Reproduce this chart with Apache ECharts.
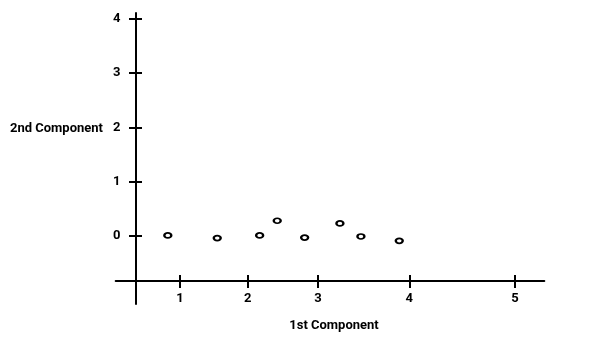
<!DOCTYPE html>
<html><head><meta charset="utf-8">
<script src="https://cdn.jsdelivr.net/npm/echarts@6/dist/echarts.min.js"></script>
<style>html,body{margin:0;padding:0;background:#fff}#c{width:606px;height:348px}</style>
</head><body><div id="c"></div>
<script>
// ---- data ----
const xTickLabels = [1, 2, 3, 4, 5];
const yTickLabels = [0, 1, 2, 3, 4];
const xValues = [0.82, 1.55, 2.17, 2.42, 2.81, 3.24, 3.47, 3.89];
const yValues = [0.01, -0.04, 0.01, 0.28, -0.03, 0.23, -0.01, -0.09];
const xName = '1st Component';
const yName = '2nd Component';

// ---- layout (hand-drawn axis with uneven tick spacing) ----
const tickPx = [180, 247.7, 318, 409.3, 515];
const axisStartPx = 115.7, axisEndPx = 544.3, yAxisPx = 135.5;
const gridTop = 13, gridHeight = 291, xAxisLift = 23;
const yMin = -1.255, yMax = 4.11;
const FONT = 'Roboto';

const segs = [];
segs.push({left: axisStartPx, right: tickPx[0], max: xTickLabels[0],
  min: xTickLabels[0] - (tickPx[0] - axisStartPx) / (tickPx[1] - tickPx[0]), tick: xTickLabels[0]});
for (let k = 1; k < xTickLabels.length; k++) {
  segs.push({left: tickPx[k-1], right: tickPx[k], min: xTickLabels[k-1], max: xTickLabels[k], tick: xTickLabels[k]});
}
const nL = xTickLabels.length;
segs.push({left: tickPx[nL-1], right: axisEndPx, min: xTickLabels[nL-1],
  max: xTickLabels[nL-1] + (axisEndPx - tickPx[nL-1]) / (tickPx[nL-1] - tickPx[nL-2]), tick: null});

const axisLineStyle = {color: '#000', width: 2};
const labelStyle = {color: '#000', fontFamily: FONT, fontWeight: 'bold', fontSize: 13};

const grid = [], xAxis = [], yAxis = [], series = [];
segs.forEach((s, i) => {
  grid.push({left: s.left, width: s.right - s.left, top: gridTop, height: gridHeight, containLabel: false});
  const ticks = s.tick === null ? [] : [s.tick];
  // outer ticks + labels + line
  xAxis.push({type: 'value', gridIndex: i, min: s.min, max: s.max, position: 'bottom', offset: -xAxisLift,
    axisLine: {show: true, onZero: false, lineStyle: axisLineStyle},
    axisTick: {show: ticks.length > 0, customValues: ticks, length: 7, lineStyle: {color: '#000', width: 2}},
    axisLabel: {show: ticks.length > 0, customValues: ticks, margin: 11, ...labelStyle},
    splitLine: {show: false}});
  // inner ticks (so ticks cross the axis)
  xAxis.push({type: 'value', gridIndex: i, min: s.min, max: s.max, position: 'bottom', offset: -xAxisLift,
    axisLine: {show: false, onZero: false},
    axisTick: {show: ticks.length > 0, inside: true, customValues: ticks, length: 6, lineStyle: {color: '#000', width: 2}},
    axisLabel: {show: false}, splitLine: {show: false}});
  if (i === 0) {
    yAxis.push({type: 'value', gridIndex: 0, min: yMin, max: yMax, position: 'left', offset: -(yAxisPx - axisStartPx),
      axisLine: {show: true, onZero: false, lineStyle: axisLineStyle},
      axisTick: {show: true, customValues: yTickLabels, length: 6.5, lineStyle: {color: '#000', width: 2}},
      axisLabel: {customValues: yTickLabels, margin: 15, ...labelStyle},
      splitLine: {show: false}});
    yAxis.push({type: 'value', gridIndex: 0, min: yMin, max: yMax, position: 'left', offset: -(yAxisPx - axisStartPx),
      axisLine: {show: false, onZero: false},
      axisTick: {show: true, inside: true, customValues: yTickLabels, length: 6.5, lineStyle: {color: '#000', width: 2}},
      axisLabel: {show: false}, splitLine: {show: false}});
  } else {
    yAxis.push({type: 'value', gridIndex: i, min: yMin, max: yMax, show: false, splitLine: {show: false}});
  }
  const pts = [];
  xValues.forEach((x, j) => { if (x >= s.min && x < s.max) pts.push([x, yValues[j]]); });
  if (pts.length) {
    series.push({type: 'scatter', xAxisIndex: i * 2, yAxisIndex: i === 0 ? 0 : i + 1,
      data: pts, symbol: 'circle', symbolSize: [7, 5], clip: false,
      itemStyle: {color: '#fff', borderColor: '#000', borderWidth: 2, opacity: 1},
      emphasis: {disabled: true}, silent: true});
  }
});

const chart = echarts.init(document.getElementById('c'), null, {renderer: 'canvas'});
chart.setOption({
  animation: false,
  backgroundColor: '#fff',
  grid, xAxis, yAxis, series,
  graphic: [
    {type: 'text', x: 103, y: 128.7, style: {text: yName, textAlign: 'right', align: 'right',
      textVerticalAlign: 'middle', verticalAlign: 'middle', fill: '#000',
      font: 'bold 13px ' + FONT}},
    {type: 'text', x: 334, y: 326, style: {text: xName, textAlign: 'center', align: 'center',
      textVerticalAlign: 'middle', verticalAlign: 'middle', fill: '#000',
      font: 'bold 13px ' + FONT}}
  ]
});
</script></body></html>
